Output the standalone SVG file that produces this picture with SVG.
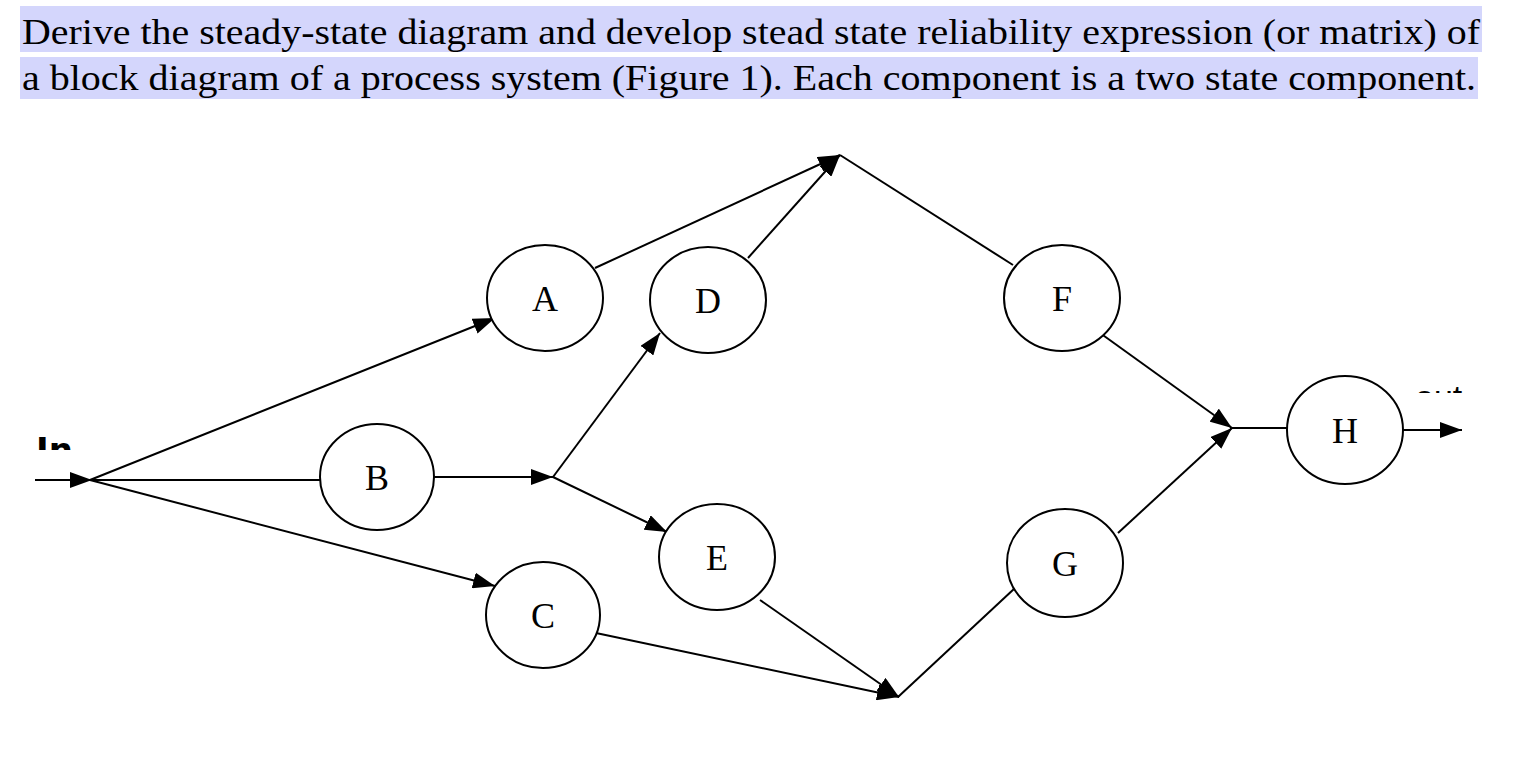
<svg xmlns="http://www.w3.org/2000/svg" width="1522" height="766" viewBox="0 0 1522 766">
<defs>
<marker id="ar" markerUnits="userSpaceOnUse" markerWidth="24" markerHeight="16" refX="22" refY="8" orient="auto"><path d="M0,0 L22,8 L0,16 Z" fill="#000"/></marker>
<clipPath id="cIn"><rect x="30" y="420" width="60" height="30"/></clipPath>
<clipPath id="cOut"><rect x="1400" y="370" width="80" height="23"/></clipPath>
</defs>
<style>
.t{font-family:"Liberation Serif","Times New Roman",serif;font-size:35px;fill:#000}
.n{fill:#fff;stroke:#000;stroke-width:2}
.l{font-family:"Liberation Serif",serif;font-size:36px;text-anchor:middle;fill:#000}
.c line{stroke:#000;stroke-width:2}
.a{marker-end:url(#ar)}
</style>
<rect width="1522" height="766" fill="#fff"/>
<g id="title">
<rect x="20" y="6" width="1462" height="46" fill="#d4d6fc"/>
<rect x="20" y="57" width="1458" height="42" fill="#d4d6fc"/>
<text class="t" x="22" y="44" textLength="1458" lengthAdjust="spacingAndGlyphs">Derive the steady-state diagram and develop stead state reliability expression (or matrix) of</text>
<text class="t" x="22" y="90" textLength="1454" lengthAdjust="spacingAndGlyphs">a block diagram of a process system (Figure 1). Each component is a two state component.</text>
</g>
<g class="c" id="connectors">
<line class="a" x1="35" y1="480" x2="92" y2="480"/>
<line class="a" x1="90" y1="480" x2="495" y2="318"/>
<line x1="90" y1="480" x2="322" y2="480"/>
<line class="a" x1="90" y1="480" x2="495" y2="586"/>
<line class="a" x1="434" y1="477" x2="553" y2="477"/>
<line class="a" x1="553" y1="477" x2="660" y2="333"/>
<line class="a" x1="553" y1="477" x2="667" y2="532"/>
<line class="a" x1="595" y1="268" x2="840" y2="155"/>
<line class="a" x1="748" y1="258" x2="840" y2="155"/>
<line x1="840" y1="155" x2="1013" y2="265"/>
<line class="a" x1="1100" y1="333" x2="1232" y2="428"/>
<line class="a" x1="1118" y1="533" x2="1232" y2="428"/>
<line x1="1230" y1="428" x2="1290" y2="428"/>
<line class="a" x1="1403" y1="430" x2="1462" y2="430"/>
<line class="a" x1="596" y1="633" x2="899" y2="697"/>
<line class="a" x1="760" y1="600" x2="899" y2="697"/>
<line x1="898" y1="697" x2="1015" y2="588"/>
</g>
<g id="A"><ellipse class="n" cx="545" cy="298" rx="58" ry="53"/><text class="l" x="545" y="311">A</text></g>
<g id="D"><ellipse class="n" cx="708" cy="300" rx="58" ry="53"/><text class="l" x="708" y="313">D</text></g>
<g id="F"><ellipse class="n" cx="1062" cy="298" rx="58" ry="53"/><text class="l" x="1062" y="311">F</text></g>
<g id="B"><ellipse class="n" cx="377" cy="477" rx="57" ry="53"/><text class="l" x="377" y="490">B</text></g>
<g id="H"><ellipse class="n" cx="1345" cy="430" rx="58" ry="54"/><text class="l" x="1345" y="443">H</text></g>
<g id="E"><ellipse class="n" cx="717" cy="557" rx="58" ry="53"/><text class="l" x="717" y="570">E</text></g>
<g id="G"><ellipse class="n" cx="1065" cy="563" rx="58" ry="54"/><text class="l" x="1065" y="576">G</text></g>
<g id="C"><ellipse class="n" cx="543" cy="615" rx="57" ry="53"/><text class="l" x="543" y="628">C</text></g>
<g id="labels">
<text x="36" y="462" clip-path="url(#cIn)" style="font-family:'DejaVu Sans',sans-serif;font-size:34px;font-weight:bold">In</text>
<text x="1415" y="409" clip-path="url(#cOut)" style="font-family:'Liberation Sans',sans-serif;font-size:34px">out</text>
</g>
</svg>
